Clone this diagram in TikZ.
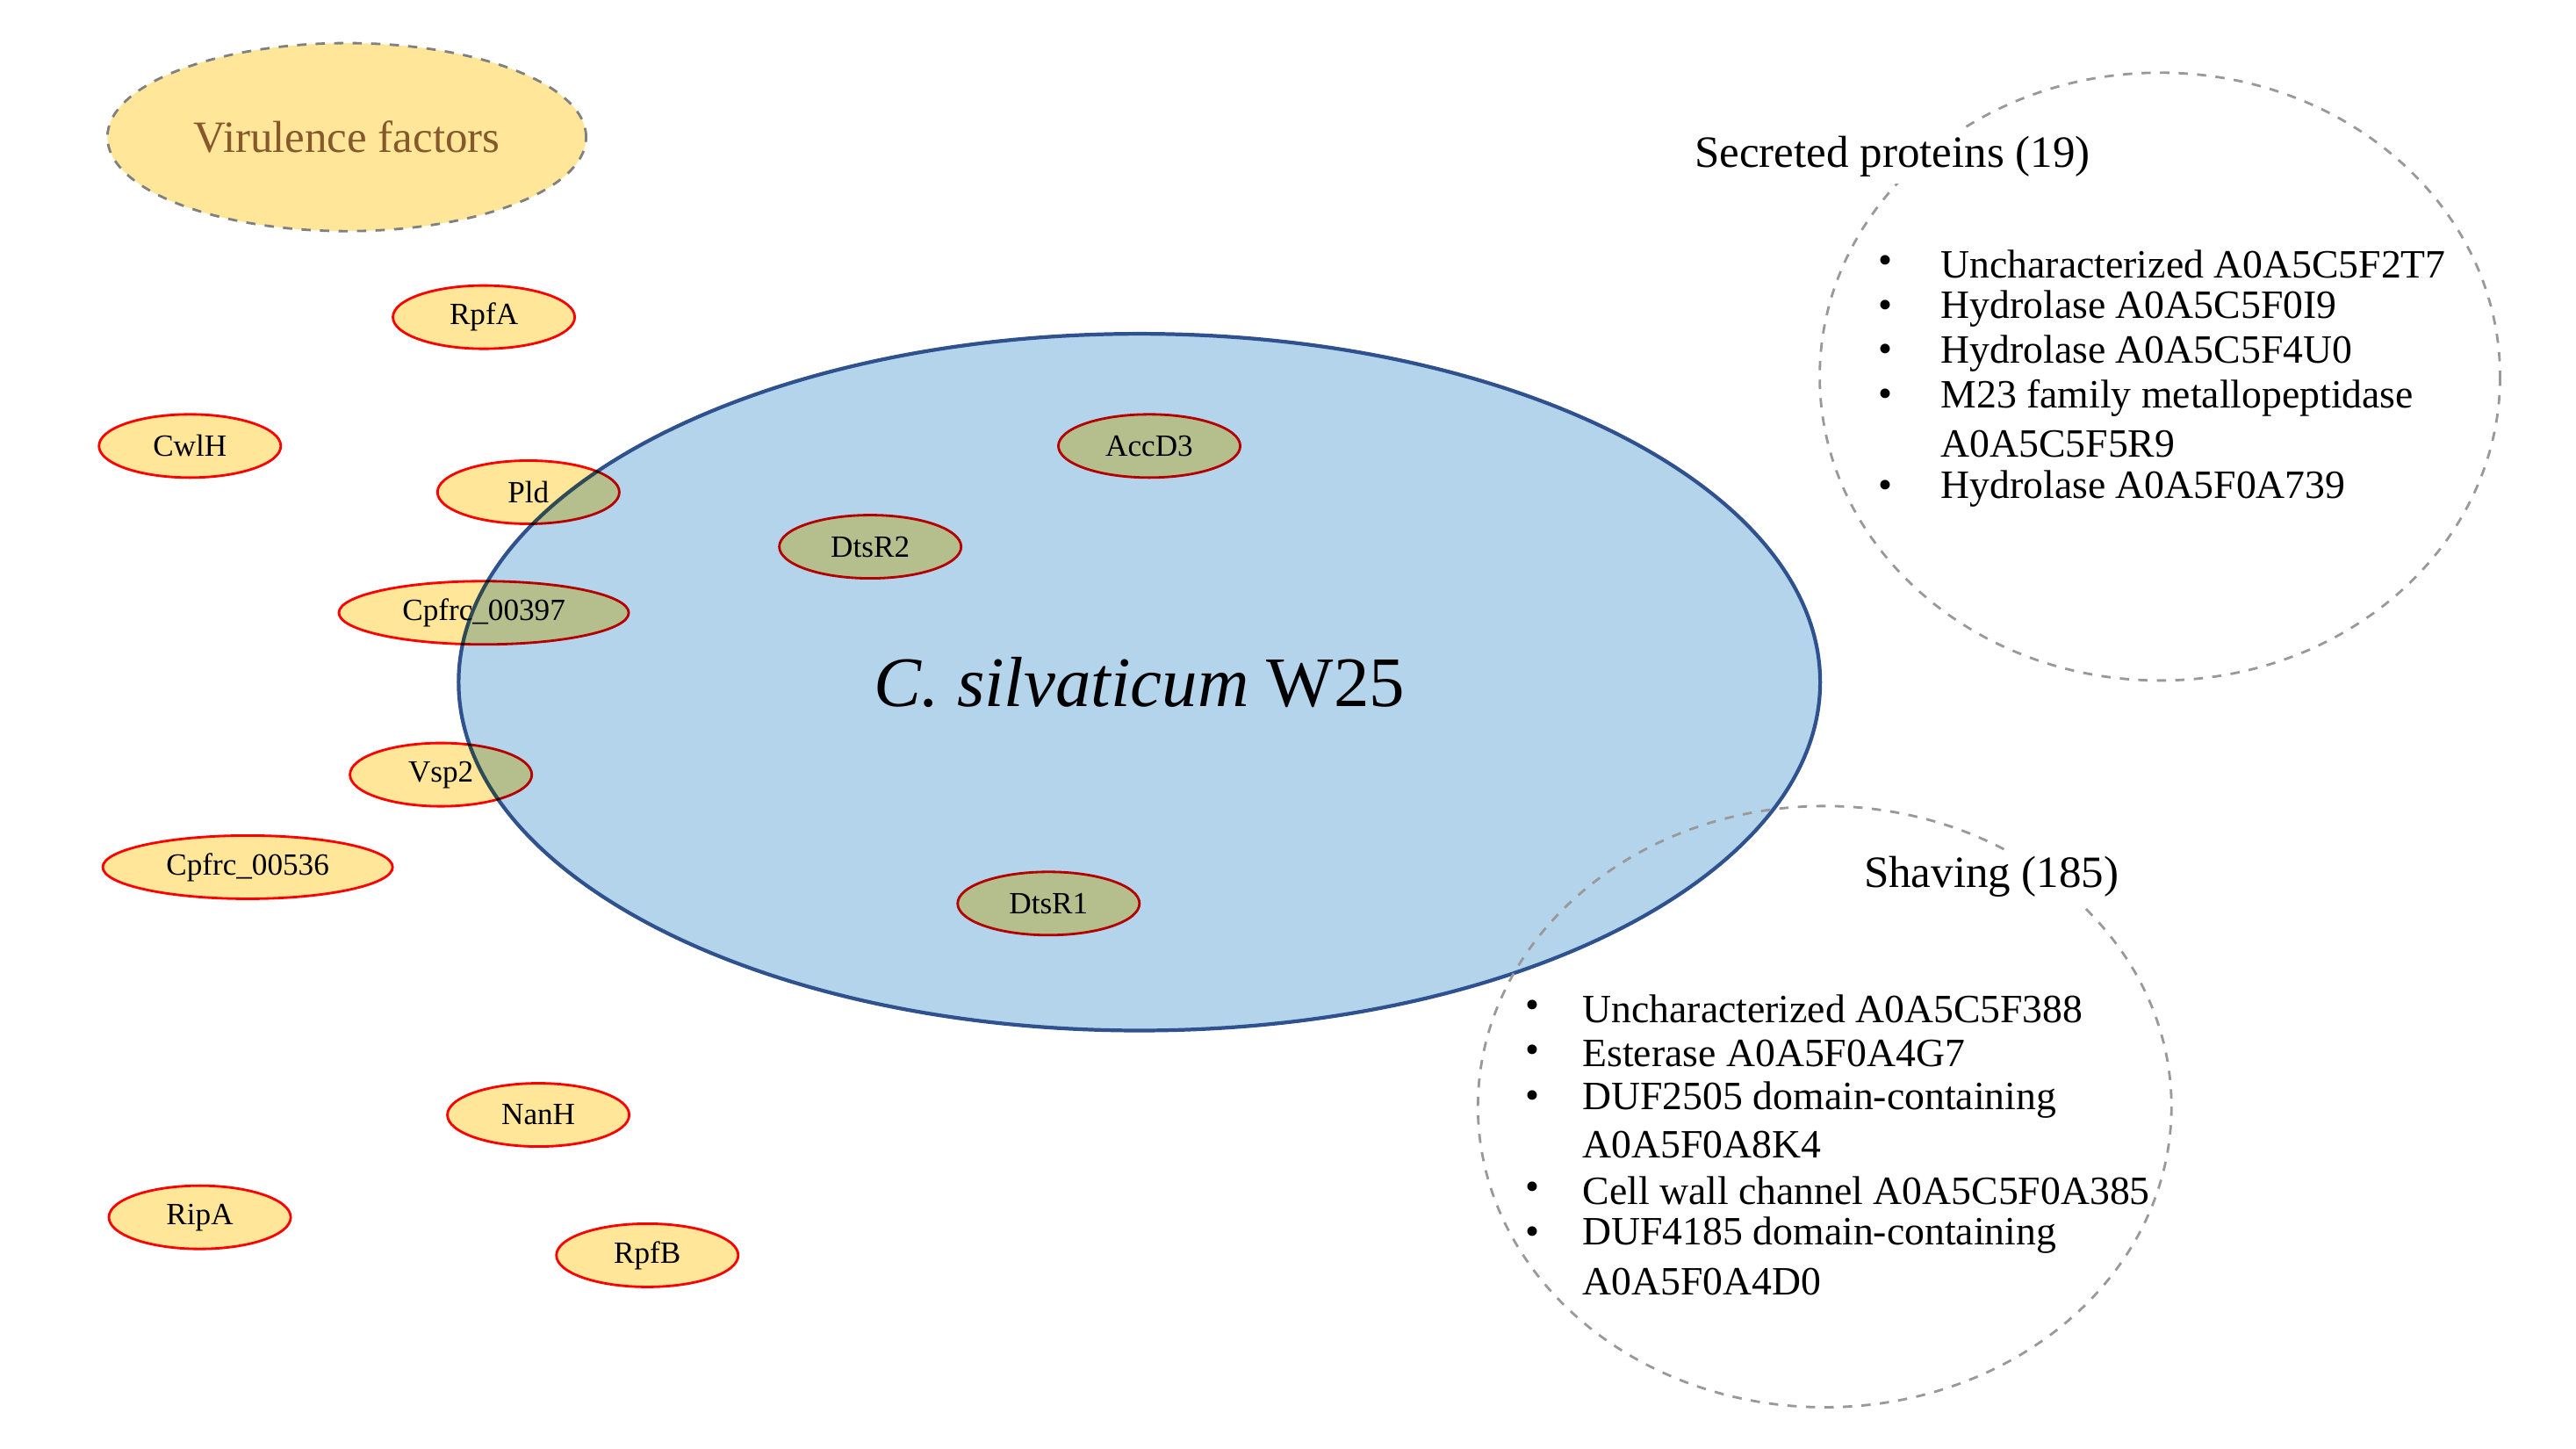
\documentclass[tikz,border=0pt]{standalone}
\usepackage{fontspec}
\setmainfont{Liberation Serif}
\usetikzlibrary{shapes.geometric}
\begin{document}
\begin{tikzpicture}[x=0.0188cm,y=-0.0188cm,
  vf/.style={ellipse,draw=red,line width=0.8pt,fill=yfill,minimum height=0.72cm,minimum width=2.07cm,inner sep=0pt,font=\fontsize{10}{12}\selectfont,blend mode=multiply},
  vfw/.style={vf,minimum width=3.3cm},
  item/.style={anchor=west,font=\fontsize{13}{15}\selectfont,inner sep=0pt},
  bul/.style={font=\fontsize{13}{15}\selectfont,inner sep=0pt},
  dcirc/.style={draw=gray!80,dashed,line width=0.8pt}]
\definecolor{yfill}{HTML}{FFE699}
\definecolor{bfill}{HTML}{B4D4EC}
\definecolor{bdraw}{HTML}{2F528F}
\useasboundingbox (0,0) rectangle (1560,877);
\node[ellipse,draw=gray,dashed,fill=yfill,minimum width=5.45cm,minimum height=2.14cm,line width=0.8pt,text=brown!70!black,font=\fontsize{14.5}{16}\selectfont] (vfac) at (210,83) {Virulence factors};
\node[ellipse,draw=bdraw,fill=bfill,line width=1.2pt,minimum width=15.5cm,minimum height=7.93cm] (cell) at (690,413) {};
\node[font=\fontsize{23}{26}\selectfont] (name) at (690,413) {\textit{C. silvaticum} W25};
\node[vf] (RpfA) at (293,192) {RpfA};
\node[vf] (CwlH) at (115,270) {CwlH};
\node[vf] (Pld) at (320,298) {Pld};
\node[vf] (DtsR2) at (527,331) {DtsR2};
\node[vf] (AccD3) at (696,270) {AccD3};
\node[vfw] (C397) at (293,371) {Cpfrc\_00397};
\node[vf] (Vsp2) at (267,469) {Vsp2};
\node[vfw] (C536) at (150,525) {Cpfrc\_00536};
\node[vf] (DtsR1) at (635,547) {DtsR1};
\node[vf] (NanH) at (326,675) {NanH};
\node[vf] (RipA) at (121,737) {RipA};
\node[vf] (RpfB) at (392,760) {RpfB};
\draw[dcirc] (1308,228) ellipse [x radius=206,y radius=184];
\draw[dcirc] (1105,670) ellipse [x radius=210,y radius=182];
\node[fill=white,font=\fontsize{14.5}{16}\selectfont,inner sep=2pt] (sec) at (1146,95) {Secreted proteins (19)};
\node[fill=white,font=\fontsize{14.5}{16}\selectfont,inner sep=2pt] (shv) at (1206,531) {Shaving (185)};
\foreach \t/\y/\b in {Uncharacterized A0A5C5F2T7/160/1,Hydrolase A0A5C5F0I9/187/1,Hydrolase A0A5C5F4U0/214/1,M23 family metallopeptidase/241/1,A0A5C5F5R9/269/0,Hydrolase A0A5F0A739/296/1}{
  \node[item] at (1175,\y) {\t};
  \ifnum\b=1 \node[bul] at (1142,\y) {\textbullet};\fi}
\foreach \t/\y/\b in {Uncharacterized A0A5C5F388/611/1,Esterase A0A5F0A4G7/638/1,DUF2505 domain-containing/666/1,A0A5F0A8K4/693/0,Cell wall channel A0A5C5F0A385/721/1,DUF4185 domain-containing/748/1,A0A5F0A4D0/776/0}{
  \node[item] at (958,\y) {\t};
  \ifnum\b=1 \node[bul] at (928,\y) {\textbullet};\fi}
\end{tikzpicture}
\end{document}
